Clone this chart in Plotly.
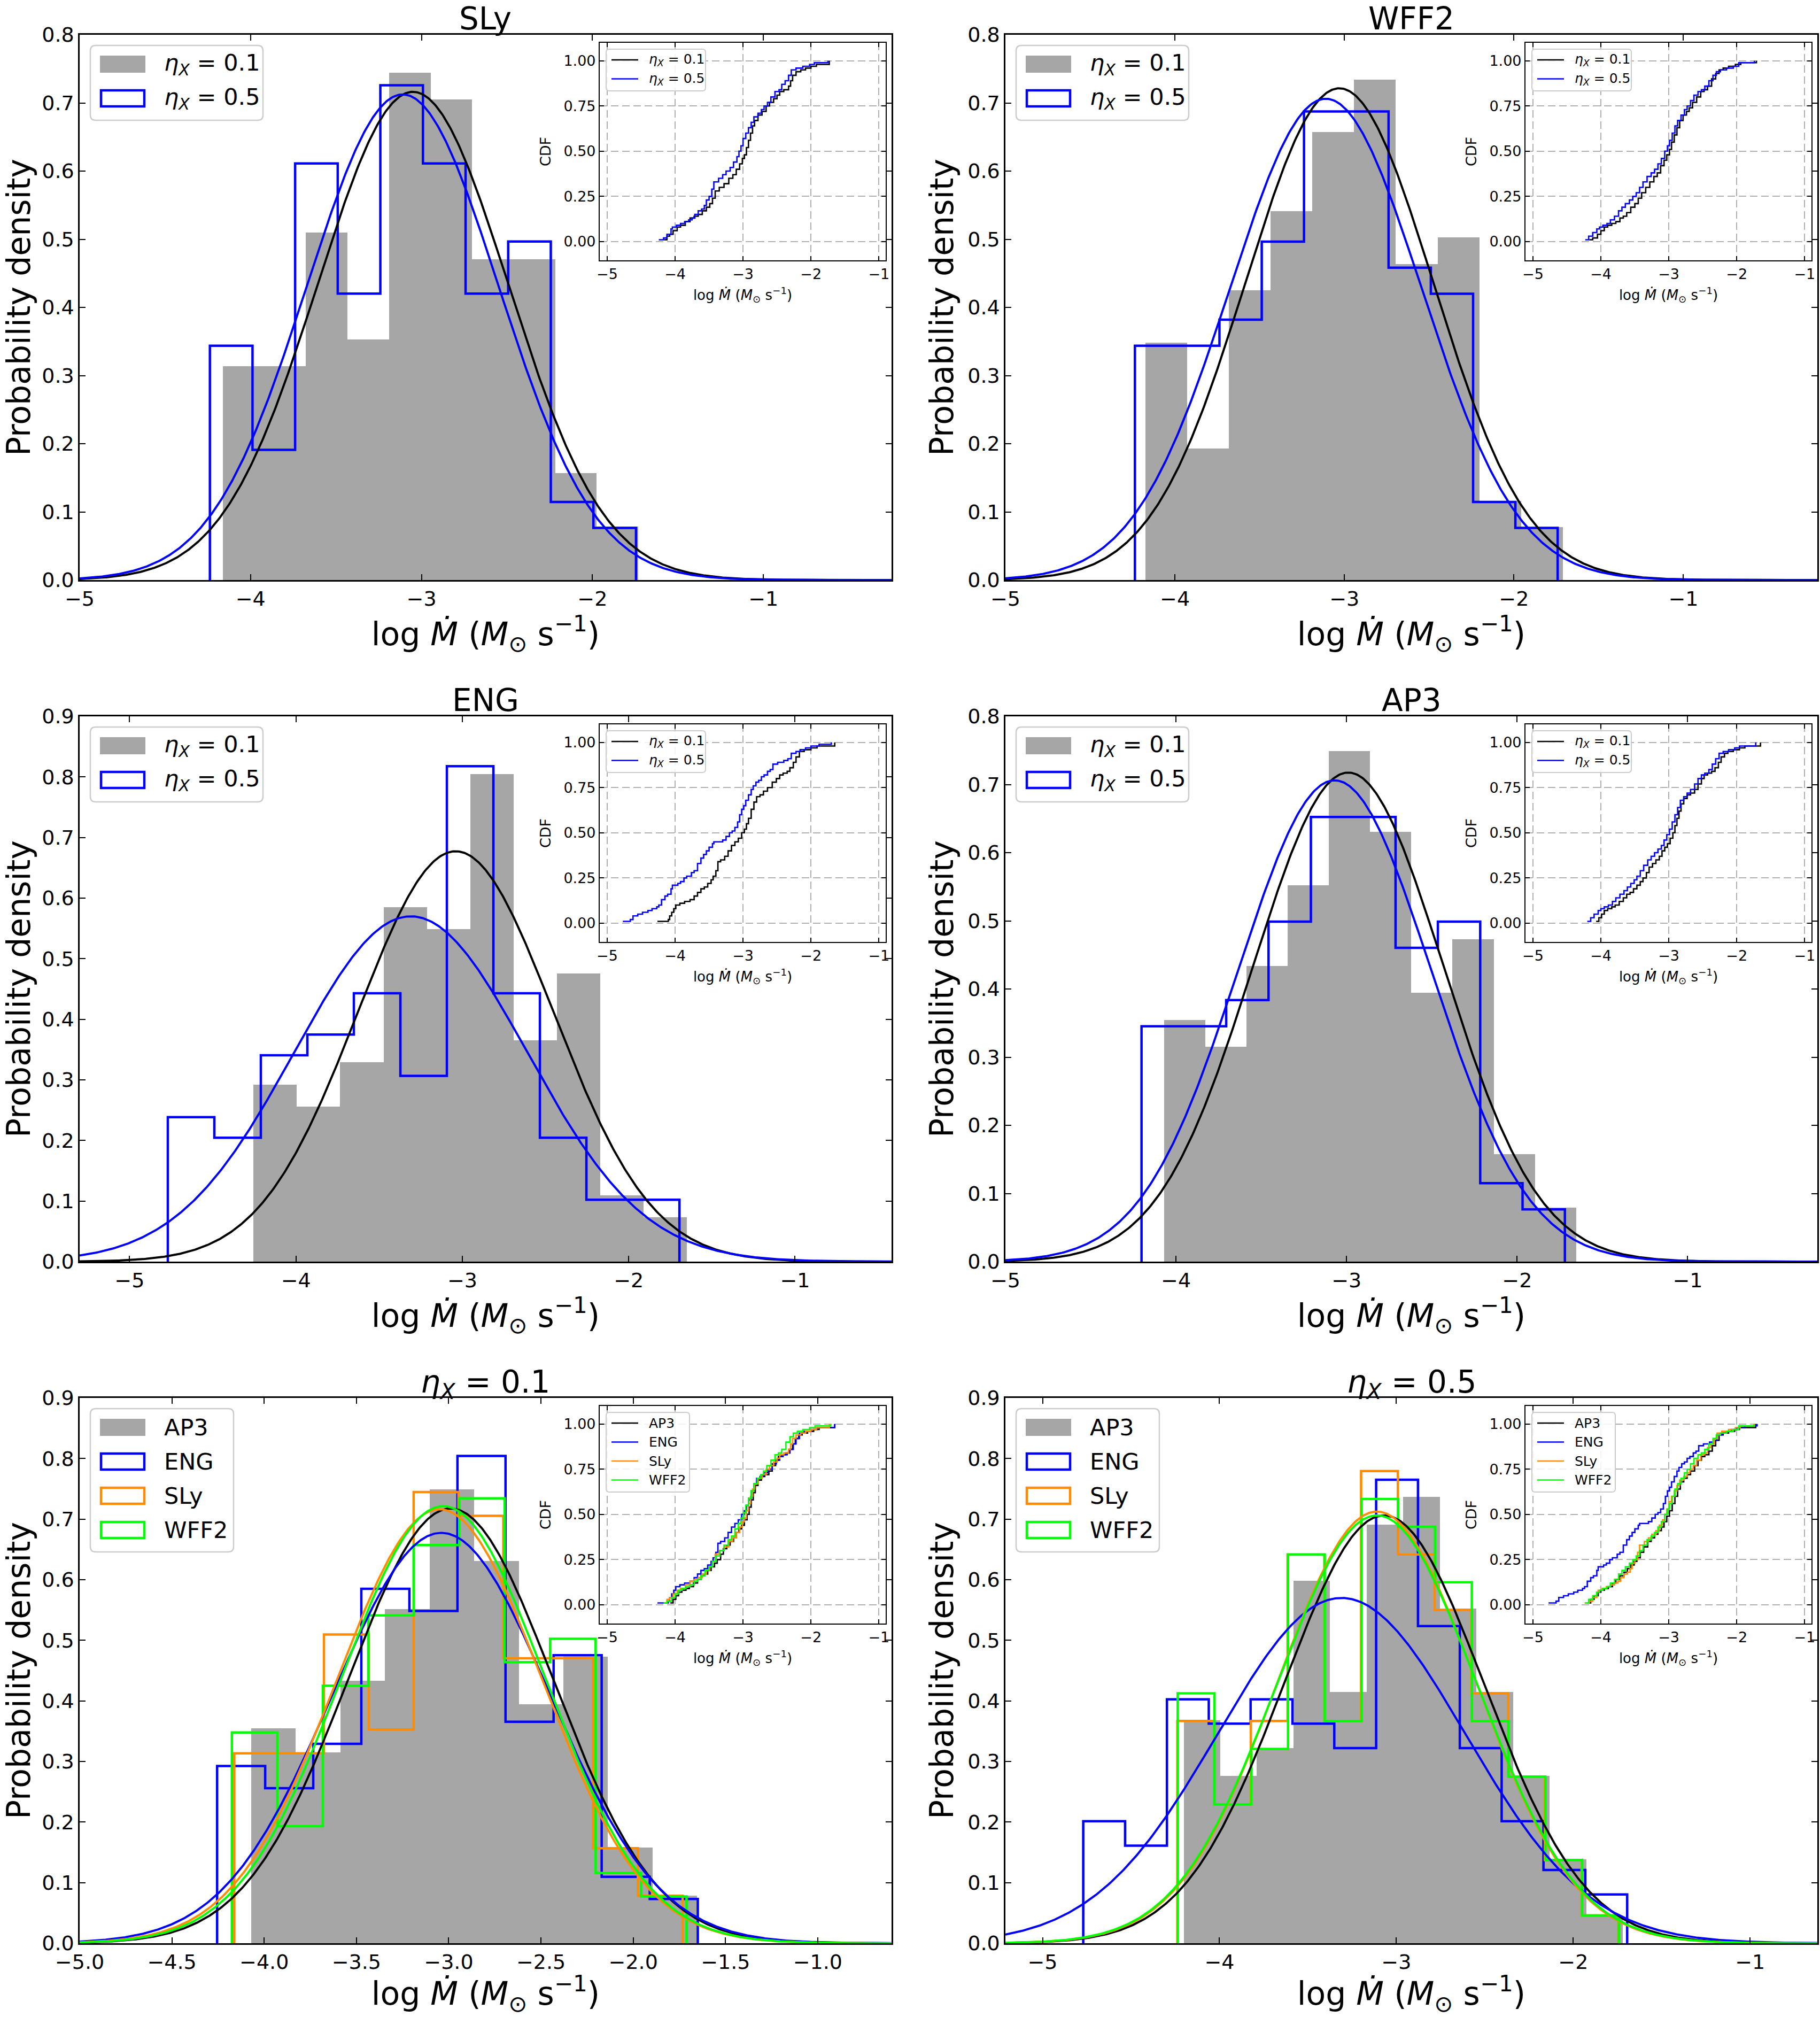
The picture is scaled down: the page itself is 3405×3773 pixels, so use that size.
import numpy as np
import plotly.graph_objects as go

W, H = 3405, 3773
FONT = "DejaVu Sans"

# ---------------------------------------------------------------- data
N_SAMPLE = 105  # systems per simulated sample

# histogram ranges [min, max] of log Mdot and counts per (equal width) bin
SLY_01_RANGE = [-4.162, -1.732]
SLY_01_COUNTS = [8, 8, 13, 9, 19, 18, 12, 12, 4, 2]
WFF2_01_RANGE = [-4.175, -1.711]
WFF2_01_COUNTS = [9, 5, 11, 14, 17, 19, 12, 13, 3, 2]
ENG_01_RANGE = [-4.255, -1.650]
ENG_01_COUNTS = [8, 7, 9, 16, 15, 22, 10, 13, 3, 2]
AP3_01_RANGE = [-4.070, -1.654]
AP3_01_COUNTS = [9, 8, 11, 14, 19, 16, 10, 12, 4, 2]

SLY_05_RANGE = [-4.238, -1.745]
SLY_05_COUNTS = [9, 5, 16, 11, 19, 16, 11, 13, 3, 2]
WFF2_05_RANGE = [-4.236, -1.742]
WFF2_05_COUNTS = [9, 9, 10, 13, 18, 18, 12, 11, 3, 2]
ENG_05_RANGE = [-4.770, -1.695]
ENG_05_COUNTS = [7, 6, 10, 11, 13, 9, 24, 13, 6, 3, 3]
AP3_05_RANGE = [-4.202, -1.720]
AP3_05_COUNTS = [9, 9, 10, 13, 17, 17, 12, 13, 3, 2]

# finer binning used in the eta_X = 0.5 comparison panel
SLY_05_COUNTS_FINE = [8, 5, 8, 14, 8, 17, 14, 12, 9, 6, 3, 1]
WFF2_05_COUNTS_FINE = [9, 5, 7, 14, 8, 16, 15, 13, 8, 6, 3, 1]
ENG_05_COUNTS_FINE = [5, 4, 10, 9, 10, 9, 8, 19, 13, 8, 5, 3, 2]
AP3_05_COUNTS_FINE = [8, 6, 7, 13, 9, 15, 16, 12, 9, 6, 3, 1]

# Gaussian fits [mean, sigma]
SLY_01_FIT = [-3.05, 0.557]
SLY_05_FIT = [-3.11, 0.560]
WFF2_01_FIT = [-3.03, 0.553]
WFF2_05_FIT = [-3.11, 0.565]
ENG_01_FIT = [-3.04, 0.589]
ENG_05_FIT = [-3.31, 0.700]
AP3_01_FIT = [-2.99, 0.556]
AP3_05_FIT = [-3.07, 0.565]

# empirical CDFs (step positions, cumulative fraction)
SLY_01_CDF_X = [-4.16, -4.12, -4.08, -4.03, -3.97, -3.92, -3.85, -3.78, -3.72, -3.66,
                -3.60, -3.54, -3.49, -3.45, -3.41, -3.35, -3.28, -3.21, -3.15, -3.10,
                -3.05, -3.01, -2.98, -2.95, -2.92, -2.89, -2.86, -2.83, -2.78, -2.72,
                -2.66, -2.61, -2.55, -2.50, -2.46, -2.40, -2.33, -2.30, -2.27, -2.22,
                -2.15, -2.08, -2.00, -1.92, -1.73]
SLY_01_CDF_Y = [0.01, 0.03, 0.04, 0.06, 0.08, 0.09, 0.11, 0.13, 0.14, 0.15,
                0.17, 0.19, 0.21, 0.24, 0.28, 0.30, 0.32, 0.35, 0.37, 0.40,
                0.43, 0.46, 0.48, 0.52, 0.56, 0.60, 0.64, 0.67, 0.70, 0.72,
                0.75, 0.77, 0.79, 0.81, 0.83, 0.84, 0.86, 0.89, 0.92, 0.94,
                0.95, 0.96, 0.97, 0.98, 1.00]
SLY_05_CDF_X = [-4.24, -4.17, -4.12, -4.06, -4.04, -3.98, -3.92, -3.86, -3.80, -3.75,
                -3.71, -3.66, -3.61, -3.57, -3.54, -3.50, -3.46, -3.43, -3.36, -3.30,
                -3.25, -3.19, -3.14, -3.09, -3.06, -3.03, -3.00, -2.96, -2.92, -2.88,
                -2.84, -2.78, -2.73, -2.69, -2.64, -2.59, -2.53, -2.47, -2.43, -2.38,
                -2.33, -2.29, -2.22, -2.12, -2.02, -1.95, -1.75]
SLY_05_CDF_Y = [0.01, 0.02, 0.04, 0.07, 0.08, 0.09, 0.10, 0.11, 0.12, 0.13,
                0.15, 0.17, 0.18, 0.20, 0.23, 0.25, 0.29, 0.33, 0.35, 0.37,
                0.39, 0.41, 0.44, 0.47, 0.50, 0.53, 0.57, 0.60, 0.63, 0.66,
                0.69, 0.71, 0.73, 0.75, 0.77, 0.80, 0.83, 0.84, 0.87, 0.89,
                0.92, 0.95, 0.96, 0.97, 0.98, 0.99, 1.00]
WFF2_01_CDF_X = [-4.17, -4.12, -4.05, -4.00, -3.95, -3.90, -3.84, -3.78, -3.72, -3.67,
                 -3.62, -3.56, -3.50, -3.45, -3.40, -3.34, -3.28, -3.22, -3.17, -3.12,
                 -3.07, -3.03, -2.99, -2.96, -2.92, -2.88, -2.84, -2.79, -2.74, -2.70,
                 -2.65, -2.59, -2.53, -2.48, -2.43, -2.37, -2.31, -2.26, -2.20, -2.12,
                 -2.02, -1.94, -1.71]
WFF2_01_CDF_Y = [0.01, 0.02, 0.04, 0.06, 0.08, 0.09, 0.10, 0.11, 0.13, 0.14,
                 0.16, 0.19, 0.21, 0.24, 0.27, 0.30, 0.33, 0.36, 0.38, 0.42,
                 0.45, 0.48, 0.51, 0.55, 0.59, 0.63, 0.67, 0.70, 0.72, 0.74,
                 0.77, 0.80, 0.83, 0.84, 0.86, 0.90, 0.93, 0.95, 0.96, 0.97,
                 0.98, 0.99, 1.00]
WFF2_05_CDF_X = [-4.23, -4.18, -4.12, -4.06, -4.02, -3.97, -3.91, -3.86, -3.80, -3.74,
                 -3.69, -3.64, -3.58, -3.53, -3.48, -3.43, -3.38, -3.32, -3.26, -3.21,
                 -3.16, -3.11, -3.06, -3.02, -2.99, -2.95, -2.91, -2.87, -2.82, -2.77,
                 -2.73, -2.68, -2.63, -2.57, -2.52, -2.47, -2.41, -2.35, -2.30, -2.24,
                 -2.15, -2.05, -1.97, -1.74]
WFF2_05_CDF_Y = [0.01, 0.03, 0.05, 0.07, 0.08, 0.09, 0.10, 0.12, 0.14, 0.17,
                 0.19, 0.21, 0.23, 0.25, 0.27, 0.30, 0.33, 0.36, 0.38, 0.40,
                 0.43, 0.46, 0.50, 0.53, 0.56, 0.60, 0.64, 0.67, 0.70, 0.73,
                 0.75, 0.78, 0.81, 0.83, 0.84, 0.86, 0.89, 0.92, 0.94, 0.95,
                 0.96, 0.97, 0.99, 1.00]
ENG_01_CDF_X = [-4.26, -4.10, -4.08, -4.05, -4.02, -3.99, -3.93, -3.86, -3.78, -3.72,
                -3.67, -3.62, -3.57, -3.52, -3.47, -3.44, -3.40, -3.37, -3.33, -3.27,
                -3.22, -3.17, -3.12, -3.07, -3.02, -2.98, -2.95, -2.92, -2.88, -2.84,
                -2.80, -2.75, -2.70, -2.64, -2.57, -2.51, -2.46, -2.41, -2.35, -2.31,
                -2.26, -2.22, -2.17, -2.10, -2.00, -1.91, -1.65]
ENG_01_CDF_Y = [0.01, 0.02, 0.04, 0.06, 0.08, 0.10, 0.11, 0.12, 0.13, 0.15,
                0.17, 0.19, 0.20, 0.22, 0.24, 0.26, 0.29, 0.34, 0.35, 0.37,
                0.40, 0.43, 0.45, 0.47, 0.50, 0.52, 0.55, 0.58, 0.63, 0.67,
                0.70, 0.71, 0.73, 0.75, 0.78, 0.80, 0.82, 0.83, 0.84, 0.86,
                0.89, 0.92, 0.95, 0.96, 0.97, 0.98, 1.00]
ENG_05_CDF_X = [-4.77, -4.66, -4.62, -4.55, -4.48, -4.40, -4.34, -4.27, -4.24, -4.20,
                -4.15, -4.11, -4.06, -4.04, -3.96, -3.92, -3.87, -3.83, -3.76, -3.72,
                -3.67, -3.62, -3.58, -3.54, -3.50, -3.45, -3.43, -3.30, -3.25, -3.20,
                -3.16, -3.12, -3.08, -3.05, -3.02, -2.99, -2.96, -2.92, -2.88, -2.85,
                -2.81, -2.77, -2.73, -2.69, -2.64, -2.60, -2.56, -2.49, -2.40, -2.34,
                -2.29, -2.22, -2.16, -2.08, -2.00, -1.88, -1.70]
ENG_05_CDF_Y = [0.01, 0.02, 0.04, 0.05, 0.06, 0.07, 0.08, 0.09, 0.10, 0.13,
                0.15, 0.16, 0.19, 0.21, 0.22, 0.23, 0.25, 0.26, 0.28, 0.29,
                0.33, 0.36, 0.38, 0.40, 0.42, 0.44, 0.45, 0.46, 0.48, 0.50,
                0.51, 0.53, 0.56, 0.60, 0.63, 0.65, 0.68, 0.71, 0.74, 0.76,
                0.78, 0.79, 0.81, 0.82, 0.84, 0.85, 0.88, 0.89, 0.90, 0.91,
                0.94, 0.95, 0.96, 0.97, 0.98, 0.99, 1.00]
AP3_01_CDF_X = [-4.07, -4.03, -3.99, -3.95, -3.90, -3.84, -3.79, -3.73, -3.67, -3.62,
                -3.57, -3.52, -3.47, -3.42, -3.38, -3.33, -3.29, -3.24, -3.19, -3.14,
                -3.10, -3.06, -3.02, -2.98, -2.94, -2.91, -2.88, -2.85, -2.82, -2.78,
                -2.73, -2.68, -2.62, -2.57, -2.52, -2.48, -2.43, -2.37, -2.32, -2.27,
                -2.23, -2.18, -2.13, -2.05, -1.96, -1.88, -1.65]
AP3_01_CDF_Y = [0.01, 0.03, 0.05, 0.07, 0.08, 0.09, 0.10, 0.12, 0.14, 0.16,
                0.17, 0.19, 0.21, 0.23, 0.25, 0.28, 0.31, 0.33, 0.35, 0.37,
                0.40, 0.42, 0.44, 0.47, 0.50, 0.54, 0.58, 0.62, 0.66, 0.69,
                0.71, 0.72, 0.74, 0.77, 0.80, 0.82, 0.83, 0.84, 0.86, 0.89,
                0.92, 0.94, 0.95, 0.96, 0.97, 0.98, 1.00]
AP3_05_CDF_X = [-4.20, -4.15, -4.10, -4.04, -4.00, -3.95, -3.89, -3.83, -3.78, -3.72,
                -3.66, -3.61, -3.56, -3.51, -3.47, -3.42, -3.37, -3.31, -3.26, -3.21,
                -3.16, -3.11, -3.07, -3.03, -2.99, -2.95, -2.91, -2.87, -2.83, -2.78,
                -2.73, -2.68, -2.62, -2.57, -2.52, -2.47, -2.41, -2.36, -2.31, -2.26,
                -2.20, -2.12, -2.03, -1.96, -1.72]
AP3_05_CDF_Y = [0.01, 0.03, 0.05, 0.07, 0.08, 0.09, 0.10, 0.12, 0.14, 0.16,
                0.18, 0.20, 0.22, 0.24, 0.26, 0.29, 0.32, 0.35, 0.37, 0.39,
                0.41, 0.43, 0.46, 0.49, 0.52, 0.56, 0.60, 0.64, 0.68, 0.70,
                0.72, 0.74, 0.77, 0.80, 0.82, 0.83, 0.85, 0.88, 0.91, 0.94,
                0.95, 0.96, 0.97, 0.98, 1.00]

PANEL_TITLES = ["SLy", "WFF2", "ENG", "AP3",
                "<i>η</i><sub><i>X</i></sub> = 0.1", "<i>η</i><sub><i>X</i></sub> = 0.5"]
ETA_LABELS = ["<i>η</i><sub><i>X</i></sub> = 0.1", "<i>η</i><sub><i>X</i></sub> = 0.5"]
EOS_LABELS = ["AP3", "ENG", "SLy", "WFF2"]

# ---------------------------------------------------------------- style
GRAY = "#a6a6a6"
BLUE = "#0000ff"
ORANGE = "#ff8c00"
GREEN = "#00ff00"
BLACK = "#000000"

COL_X = [(149, 1668), (1881, 3400)]
ROW_Y = [(65, 1085), (1340, 2360), (2615, 3635)]
XLABEL = "log <i>Ṁ</i> (<i>M</i><sub>⊙</sub> s<sup>−1</sup>)"

panels = [
    dict(col=0, row=0, xr=[-5.0, -0.25], yr=[0, 0.8], dtick=1, fmt="",
         filled=(SLY_01_RANGE, SLY_01_COUNTS),
         steps=[(SLY_05_RANGE, SLY_05_COUNTS, BLUE)],
         fits=[(SLY_01_FIT, BLACK), (SLY_05_FIT, BLUE)],
         cdfs=[(SLY_01_CDF_X, SLY_01_CDF_Y, BLACK), (SLY_05_CDF_X, SLY_05_CDF_Y, BLUE)],
         leg=[("fill", GRAY), ("line", BLUE)], leglab=ETA_LABELS,
         ileg=[BLACK, BLUE]),
    dict(col=1, row=0, xr=[-5.0, -0.21], yr=[0, 0.8], dtick=1, fmt="",
         filled=(WFF2_01_RANGE, WFF2_01_COUNTS),
         steps=[(WFF2_05_RANGE, WFF2_05_COUNTS, BLUE)],
         fits=[(WFF2_01_FIT, BLACK), (WFF2_05_FIT, BLUE)],
         cdfs=[(WFF2_01_CDF_X, WFF2_01_CDF_Y, BLACK), (WFF2_05_CDF_X, WFF2_05_CDF_Y, BLUE)],
         leg=[("fill", GRAY), ("line", BLUE)], leglab=ETA_LABELS,
         ileg=[BLACK, BLUE]),
    dict(col=0, row=1, xr=[-5.30, -0.42], yr=[0, 0.9], dtick=1, fmt="",
         filled=(ENG_01_RANGE, ENG_01_COUNTS),
         steps=[(ENG_05_RANGE, ENG_05_COUNTS, BLUE)],
         fits=[(ENG_01_FIT, BLACK), (ENG_05_FIT, BLUE)],
         cdfs=[(ENG_01_CDF_X, ENG_01_CDF_Y, BLACK), (ENG_05_CDF_X, ENG_05_CDF_Y, BLUE)],
         leg=[("fill", GRAY), ("line", BLUE)], leglab=ETA_LABELS,
         ileg=[BLACK, BLUE]),
    dict(col=1, row=1, xr=[-5.0, -0.24], yr=[0, 0.8], dtick=1, fmt="",
         filled=(AP3_01_RANGE, AP3_01_COUNTS),
         steps=[(AP3_05_RANGE, AP3_05_COUNTS, BLUE)],
         fits=[(AP3_01_FIT, BLACK), (AP3_05_FIT, BLUE)],
         cdfs=[(AP3_01_CDF_X, AP3_01_CDF_Y, BLACK), (AP3_05_CDF_X, AP3_05_CDF_Y, BLUE)],
         leg=[("fill", GRAY), ("line", BLUE)], leglab=ETA_LABELS,
         ileg=[BLACK, BLUE]),
    dict(col=0, row=2, xr=[-5.0, -0.6], yr=[0, 0.9], dtick=0.5, fmt=".1f",
         filled=(AP3_01_RANGE, AP3_01_COUNTS),
         steps=[(ENG_01_RANGE, ENG_01_COUNTS, BLUE), (SLY_01_RANGE, SLY_01_COUNTS, ORANGE),
                (WFF2_01_RANGE, WFF2_01_COUNTS, GREEN)],
         fits=[(AP3_01_FIT, BLACK), (ENG_01_FIT, BLUE), (SLY_01_FIT, ORANGE), (WFF2_01_FIT, GREEN)],
         cdfs=[(AP3_01_CDF_X, AP3_01_CDF_Y, BLACK), (ENG_01_CDF_X, ENG_01_CDF_Y, BLUE),
               (SLY_01_CDF_X, SLY_01_CDF_Y, ORANGE), (WFF2_01_CDF_X, WFF2_01_CDF_Y, GREEN)],
         leg=[("fill", GRAY), ("line", BLUE), ("line", ORANGE), ("line", GREEN)],
         leglab=EOS_LABELS, ileg=[BLACK, BLUE, ORANGE, GREEN]),
    dict(col=1, row=2, xr=[-5.21, -0.62], yr=[0, 0.9], dtick=1, fmt="",
         filled=(AP3_05_RANGE, AP3_05_COUNTS_FINE),
         steps=[(ENG_05_RANGE, ENG_05_COUNTS_FINE, BLUE), (SLY_05_RANGE, SLY_05_COUNTS_FINE, ORANGE),
                (WFF2_05_RANGE, WFF2_05_COUNTS_FINE, GREEN)],
         fits=[(AP3_05_FIT, BLACK), (ENG_05_FIT, BLUE), (SLY_05_FIT, ORANGE), (WFF2_05_FIT, GREEN)],
         cdfs=[(AP3_05_CDF_X, AP3_05_CDF_Y, BLACK), (ENG_05_CDF_X, ENG_05_CDF_Y, BLUE),
               (SLY_05_CDF_X, SLY_05_CDF_Y, ORANGE), (WFF2_05_CDF_X, WFF2_05_CDF_Y, GREEN)],
         leg=[("fill", GRAY), ("line", BLUE), ("line", ORANGE), ("line", GREEN)],
         leglab=EOS_LABELS, ileg=[BLACK, BLUE, ORANGE, GREEN]),
]


def hist_geom(rng, counts):
    n = len(counts)
    edges = np.linspace(rng[0], rng[1], n + 1)
    w = edges[1] - edges[0]
    dens = np.asarray(counts, float) / (N_SAMPLE * w)
    return edges, w, dens


def step_xy(edges, dens):
    xs, ys = [edges[0]], [0.0]
    for i, h in enumerate(dens):
        xs += [edges[i], edges[i + 1]]
        ys += [h, h]
    xs.append(edges[-1])
    ys.append(0.0)
    return xs, ys


def gauss(x, mu, s):
    return np.exp(-0.5 * ((x - mu) / s) ** 2) / (s * np.sqrt(2 * np.pi))


def PX(x):
    return x / W


def PY(y):
    return 1 - y / H


def rounded_path(x0, y0, x1, y1, r):
    def p(x, y):
        return f"{PX(x):.6f},{PY(y):.6f}"
    return (f"M {p(x0 + r, y0)} L {p(x1 - r, y0)} Q {p(x1, y0)} {p(x1, y0 + r)} "
            f"L {p(x1, y1 - r)} Q {p(x1, y1)} {p(x1 - r, y1)} L {p(x0 + r, y1)} "
            f"Q {p(x0, y1)} {p(x0, y1 - r)} L {p(x0, y0 + r)} Q {p(x0, y0)} {p(x0 + r, y0)} Z")


fig = go.Figure()
layout = {}
shapes = []
annots = []


def keys(i):
    s = "" if i == 1 else str(i)
    return "x" + s, "y" + s, "xaxis" + s, "yaxis" + s


for k, p in enumerate(panels):
    xm, ym, xmk, ymk = keys(2 * k + 1)
    xi, yi, xik, yik = keys(2 * k + 2)
    L, R = COL_X[p["col"]]
    T, B = ROW_Y[p["row"]]
    iL, iR = L + 973, L + 973 + 535
    iT, iB = T + 15, T + 422

    main_common = dict(showline=True, linecolor="black", linewidth=2.5, mirror="ticks",
                       ticks="inside", ticklen=11, tickwidth=2.2, tickcolor="black",
                       showgrid=False, zeroline=False, automargin=False,
                       tickfont=dict(family=FONT, size=38, color="black"))
    layout[xmk] = dict(main_common, domain=[PX(L), PX(R)], anchor=ym, range=p["xr"],
                       tickmode="linear", tick0=-5, dtick=p["dtick"], tickformat=p["fmt"],
                       title=dict(text=XLABEL, font=dict(family=FONT, size=60, color="black"),
                                  standoff=18))
    layout[ymk] = dict(main_common, domain=[PY(B), PY(T)], anchor=xm, range=p["yr"],
                       tickmode="linear", tick0=0, dtick=0.1, tickformat=".1f",
                       title=dict(text="Probability density",
                                  font=dict(family=FONT, size=60, color="black"), standoff=8))
    inset_common = dict(showline=True, linecolor="black", linewidth=2.2, mirror="ticks",
                        ticks="inside", ticklen=8, tickwidth=2, tickcolor="black",
                        showgrid=True, gridcolor="#b0b0b0", gridwidth=2, griddash="14px,7px",
                        zeroline=False, automargin=False,
                        tickfont=dict(family=FONT, size=27, color="black"))
    layout[xik] = dict(inset_common, domain=[PX(iL), PX(iR)], anchor=yi, range=[-5.11, -0.9],
                       tickmode="linear", tick0=-5, dtick=1,
                       title=dict(text=XLABEL, font=dict(family=FONT, size=26, color="black"),
                                  standoff=16))
    layout[yik] = dict(inset_common, domain=[PY(iB), PY(iT)], anchor=xi, range=[-0.104, 1.1],
                       tickmode="linear", tick0=0, dtick=0.25, tickformat=".2f",
                       title=dict(text="CDF", font=dict(family=FONT, size=27, color="black"),
                                  standoff=16))

    # filled histogram
    rng, cnt = p["filled"]
    edges, w, dens = hist_geom(rng, cnt)
    fig.add_trace(go.Bar(x=(edges[:-1] + edges[1:]) / 2, y=dens, width=w,
                         marker=dict(color=GRAY, line=dict(width=0)),
                         xaxis=xm, yaxis=ym, showlegend=False, hoverinfo="skip"))
    # step histograms
    for rng, cnt, c in p["steps"]:
        edges, w, dens = hist_geom(rng, cnt)
        sx, sy = step_xy(edges, dens)
        fig.add_trace(go.Scatter(x=sx, y=sy, mode="lines", line=dict(color=c, width=4.5),
                                 xaxis=xm, yaxis=ym, showlegend=False, hoverinfo="skip"))
    # Gaussian fits
    xx = np.linspace(p["xr"][0], p["xr"][1], 700)
    for (mu, s), c in p["fits"]:
        fig.add_trace(go.Scatter(x=xx, y=gauss(xx, mu, s), mode="lines",
                                 line=dict(color=c, width=4), xaxis=xm, yaxis=ym,
                                 showlegend=False, hoverinfo="skip"))
    # CDF inset
    for cx, cy, c in p["cdfs"]:
        fig.add_trace(go.Scatter(x=cx, y=cy, mode="lines", line=dict(color=c, width=2.6, shape="hv"),
                                 xaxis=xi, yaxis=yi, showlegend=False, hoverinfo="skip"))

    # panel title
    annots.append(dict(text=PANEL_TITLES[k], x=PX((L + R) / 2), y=PY(T - 66), xref="paper",
                       yref="paper", xanchor="center", yanchor="top", showarrow=False,
                       font=dict(family=FONT, size=58, color="black")))

    # main legend
    n = len(p["leg"])
    bw = 323 if n == 2 else 268
    bx0, by0 = L + 20, T + 20
    shapes.append(dict(type="path", xref="paper", yref="paper",
                       path=rounded_path(bx0, by0, bx0 + bw, by0 + 12 + 64 * n, 10),
                       fillcolor="rgba(255,255,255,0.85)", line=dict(color="#cccccc", width=2.5)))
    for j, ((kind, c), lab) in enumerate(zip(p["leg"], p["leglab"])):
        cy = T + 55 + 64 * j
        if kind == "fill":
            shapes.append(dict(type="rect", xref="paper", yref="paper",
                               x0=PX(L + 38), x1=PX(L + 123), y0=PY(cy + 16), y1=PY(cy - 16),
                               fillcolor=GRAY, line=dict(width=0)))
        else:
            shapes.append(dict(type="rect", xref="paper", yref="paper",
                               x0=PX(L + 40), x1=PX(L + 121), y0=PY(cy + 15), y1=PY(cy - 15),
                               fillcolor="rgba(0,0,0,0)", line=dict(color=c, width=4.5)))
        annots.append(dict(text=lab, x=PX(L + 156), y=PY(cy), xref="paper", yref="paper",
                           xanchor="left", yanchor="middle", showarrow=False,
                           font=dict(family=FONT, size=43, color="black")))

    # inset legend
    ibw = 186 if n == 2 else 156
    shapes.append(dict(type="path", xref="paper", yref="paper",
                       path=rounded_path(iL + 12, iT + 12, iL + 12 + ibw, iT + 12 + 9 + 35.5 * n - 2, 6),
                       fillcolor="rgba(255,255,255,0.85)", line=dict(color="#cccccc", width=2)))
    ilabs = ETA_LABELS if n == 2 else EOS_LABELS
    for j, (c, lab) in enumerate(zip(p["ileg"], ilabs)):
        cy = iT + 32 + 35.5 * j
        shapes.append(dict(type="line", xref="paper", yref="paper",
                           x0=PX(iL + 22), x1=PX(iL + 72), y0=PY(cy), y1=PY(cy),
                           line=dict(color=c, width=2.6)))
        annots.append(dict(text=lab, x=PX(iL + 90), y=PY(cy), xref="paper", yref="paper",
                           xanchor="left", yanchor="middle", showarrow=False,
                           font=dict(family=FONT, size=25, color="black")))

fig.update_layout(**layout)
fig.update_layout(width=W, height=H, margin=dict(l=0, r=0, t=0, b=0, autoexpand=False),
                  paper_bgcolor="white", plot_bgcolor="white", showlegend=False,
                  barmode="overlay", bargap=0, shapes=shapes, annotations=annots,
                  font=dict(family=FONT, color="black"))
fig.write_html("out.html")
